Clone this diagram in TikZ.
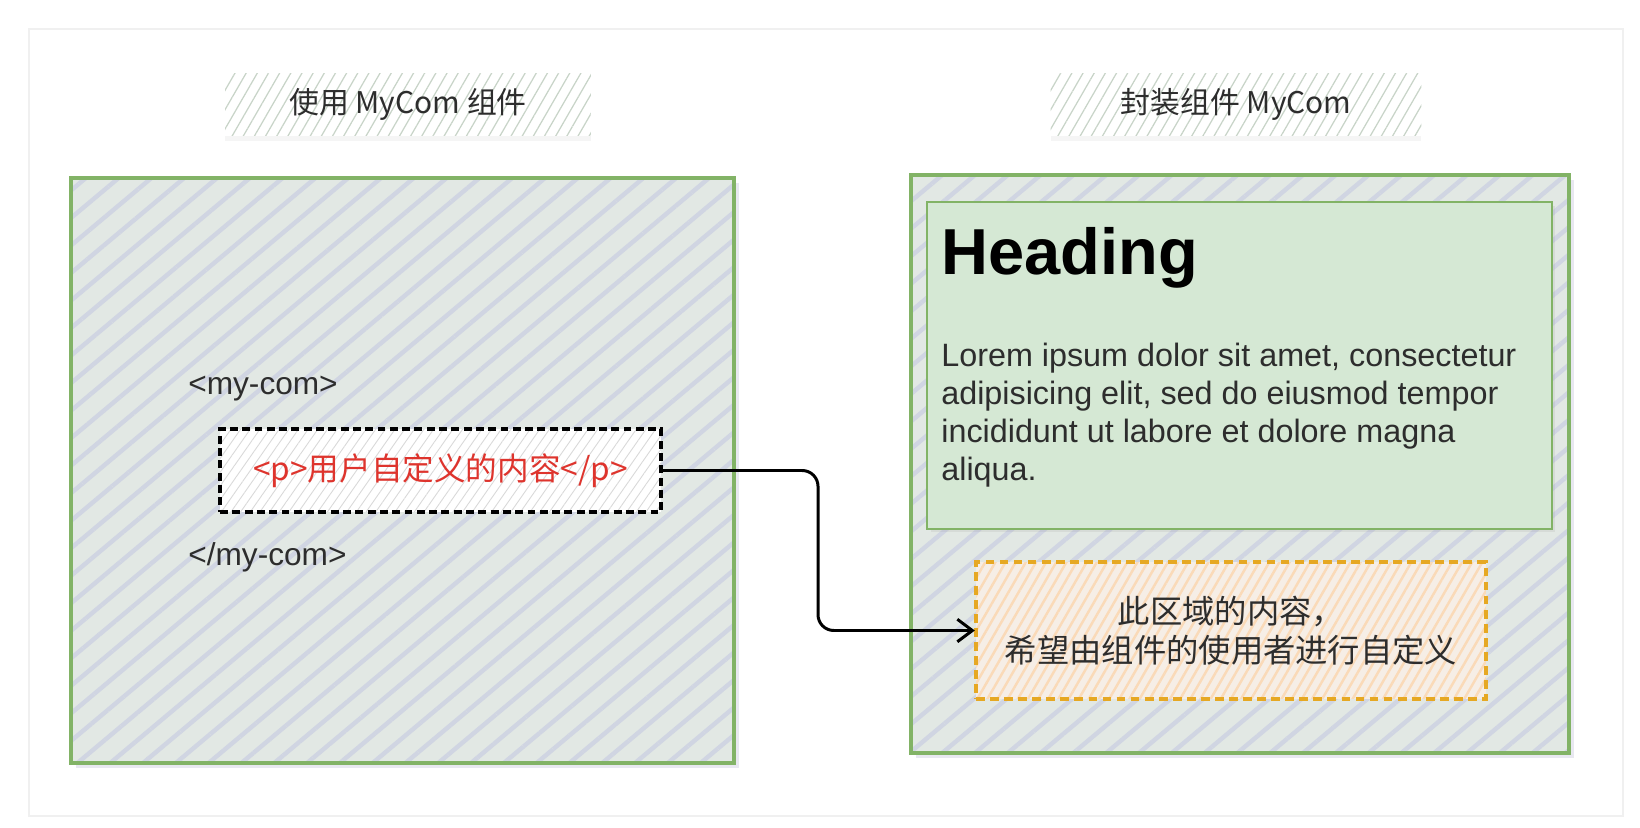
\documentclass[tikz,border=0pt]{standalone}
\usepackage{fontspec}
\setmainfont{Liberation Sans}
\newfontfamily\cjk{Noto Sans CJK SC}
\usetikzlibrary{arrows.meta,patterns.meta,shadows}
\definecolor{panelgreen}{RGB}{130,179,102}
\definecolor{panelfill}{RGB}{226,232,228}
\definecolor{panelhatch}{RGB}{208,213,226}
\definecolor{cardfill}{RGB}{213,232,212}
\definecolor{slotorange}{RGB}{230,168,35}
\definecolor{slotfill}{RGB}{246,238,230}
\definecolor{slothatch}{RGB}{250,218,184}
\definecolor{tagred}{RGB}{222,52,45}
\definecolor{bandhatch}{RGB}{200,212,200}
\definecolor{txtgray}{RGB}{45,45,45}
\tikzset{
  framebox/.style  = {draw=gray!12, line width=1pt, inner sep=0pt},
  panel/.style     = {draw=panelgreen, line width=1.8pt, inner sep=0pt,
                      drop shadow={shadow xshift=3pt, shadow yshift=-3pt,
                                   opacity=0.15, fill=blue!20!gray},
                      preaction={fill=panelfill},
                      pattern={Lines[angle=40,distance=12pt,line width=2.5pt]},
                      pattern color=panelhatch},
  band/.style      = {inner sep=0pt, minimum height=1.26cm,
                      drop shadow={shadow xshift=0pt, shadow yshift=-3pt,
                                   opacity=0.08, fill=gray},
                      preaction={fill=white},
                      pattern={Lines[angle=60,distance=5.5pt,line width=0.7pt]},
                      pattern color=bandhatch,
                      text=txtgray, font=\cjk\fontsize{17}{20}\selectfont},
  cardbox/.style   = {draw=panelgreen, line width=1.3pt, fill=cardfill,
                      inner sep=0pt, drop shadow={shadow xshift=2pt,
                      shadow yshift=-2pt, opacity=0.12, fill=gray}},
  slotbox/.style   = {draw=slotorange, dashed, dash pattern=on 5pt off 3pt,
                      line width=2pt, inner sep=0pt, align=center,
                      preaction={fill=slotfill},
                      pattern={Lines[angle=60,distance=5pt,line width=1.4pt]},
                      pattern color=slothatch,
                      text=txtgray, font=\cjk\fontsize{18.4}{22}\selectfont},
  userbox/.style   = {draw=black, dashed, dash pattern=on 4.5pt off 2.5pt,
                      line width=1.8pt, inner sep=0pt,
                      preaction={fill=white},
                      pattern={Lines[angle=55,distance=4.5pt,line width=0.5pt]},
                      pattern color=gray!30,
                      text=tagred, font=\cjk\fontsize{18}{22}\selectfont},
  tagtxt/.style    = {inner sep=0pt, text=txtgray, font=\fontsize{18}{22}\selectfont},
  headtxt/.style   = {inner sep=0pt, font=\bfseries\fontsize{37}{44}\selectfont},
  bodytxt/.style   = {inner sep=0pt, align=left, text=txtgray,
                      font=\fontsize{18.4}{21.6}\selectfont},
  linkar/.style    = {-{Straight Barb[length=3mm,width=4.5mm]}, line width=1.7pt,
                      rounded corners=9pt}
}
\begin{document}
\begin{tikzpicture}[x=0.02cm, y=-0.02cm]
  \useasboundingbox (0,0) rectangle (1640,828);
  \node[framebox, minimum width=31.88cm, minimum height=15.74cm] (frame) at (826,422.5) {};

  % left: using the component
  \node[band, minimum width=7.32cm] (usetitle) at (408,104.5) {使用 MyCom 组件};
  \node[panel, minimum width=13.26cm, minimum height=11.7cm] (usepanel) at (402.5,470.5) {};
  \node[tagtxt, anchor=west] (opentag) at (188,389) {<my-com>};
  \node[userbox, minimum width=8.82cm, minimum height=1.66cm] (userslot) at (440.5,470.5)
    {<p>用户自定义的内容</p>};
  \node[tagtxt, anchor=west] (closetag) at (188,557) {</my-com>};

  % right: wrapping the component
  \node[band, minimum width=7.42cm] (wraptitle) at (1236,104.5) {封装组件 MyCom};
  \node[panel, minimum width=13.16cm, minimum height=11.56cm] (wrappanel) at (1240,464) {};
  \node[cardbox, minimum width=12.5cm, minimum height=6.54cm] (card) at (1239.5,365.5) {};
  \node[headtxt, anchor=base west] (heading) at (941,274) {Heading};
  \node[bodytxt, anchor=north west] (lorem) at (941,343)
    {Lorem ipsum dolor sit amet, consectetur\\
     adipisicing elit, sed do eiusmod tempor\\
     incididunt ut labore et dolore magna\\
     aliqua.};
  \node[slotbox, minimum width=10.2cm, minimum height=2.74cm] (slotarea) at (1231,630.5)
    {此区域的内容，\\希望由组件的使用者进行自定义};

  \coordinate (bend) at (818,550);
  \draw[linkar] (userslot.east) -| (bend) |- (slotarea.west);
\end{tikzpicture}
\end{document}
